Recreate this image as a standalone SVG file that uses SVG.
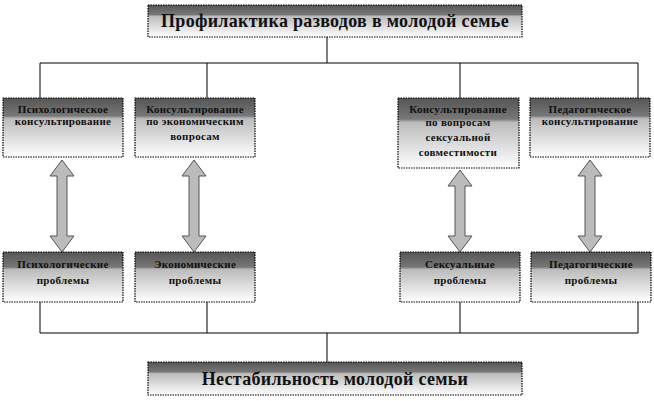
<svg xmlns="http://www.w3.org/2000/svg" width="654" height="401" viewBox="0 0 654 401">
<style>
.box{fill:url(#g);stroke:#000;stroke-width:1.2;stroke-dasharray:1.5 1}
.t{font-family:"Liberation Serif",serif;font-weight:bold;font-size:11px;letter-spacing:0.3px;text-anchor:middle;fill:#111}
.big{font-family:"Liberation Serif",serif;font-weight:bold;font-size:18px;letter-spacing:0.3px;text-anchor:middle;fill:#111}
.ln{stroke:#000;stroke-width:1;fill:none}
.ar{fill:#bbb;stroke:#555;stroke-width:1}
</style>
<defs>
<linearGradient id="g" x1="0" y1="0" x2="0" y2="1">
<stop offset="0" stop-color="#555"/><stop offset="0.3" stop-color="#777"/><stop offset="0.35" stop-color="#bbb"/><stop offset="1" stop-color="#fff"/>
</linearGradient>
</defs>
<g id="connectors">
<path class="ln" d="M40 63H638M327 37V63M40 63V98M207 63V98M460 63V98M638 63V98"/>
<path class="ln" d="M40 302V333H638M207 302V333M460 302V333M638 302V333M327 333V362"/>
<path class="ar" d="M62 160L74 176H67V236H74L62 252L50 236H57V176H50Z"/>
<path class="ar" d="M194 160L206 176H199V236H206L194 252L182 236H189V176H182Z"/>
<path class="ar" d="M460 170L472 186H465V236H472L460 252L448 236H455V186H448Z"/>
<path class="ar" d="M590 160L602 176H595V236H602L590 252L578 236H585V176H578Z"/>
</g>
<g id="top"><rect class="box" x="148" y="5" width="374" height="32"/><text class="big" x="335" y="27">Профилактика разводов в молодой семье</text></g>
<g id="n1"><rect class="box" x="3" y="98" width="120" height="59"/><text class="t" x="63" y="113">Психологическое</text><text class="t" x="63" y="125">консультирование</text></g>
<g id="n2"><rect class="box" x="135" y="98" width="120" height="59"/><text class="t" x="195" y="113">Консультирование</text><text class="t" x="195" y="125">по экономическим</text><text class="t" x="195" y="140">вопросам</text></g>
<g id="n3"><rect class="box" x="398" y="98" width="121" height="70"/><text class="t" x="458" y="113">Консультирование</text><text class="t" x="458" y="126">по вопросам</text><text class="t" x="458" y="141">сексуальной</text><text class="t" x="458" y="156">совместимости</text></g>
<g id="n4"><rect class="box" x="530" y="98" width="120" height="59"/><text class="t" x="590" y="113">Педагогическое</text><text class="t" x="590" y="125">консультирование</text></g>
<g id="p1"><rect class="box" x="3" y="252" width="120" height="50"/><text class="t" x="63" y="268">Психологические</text><text class="t" x="63" y="284">проблемы</text></g>
<g id="p2"><rect class="box" x="135" y="252" width="120" height="50"/><text class="t" x="195" y="268">Экономические</text><text class="t" x="195" y="284">проблемы</text></g>
<g id="p3"><rect class="box" x="400" y="252" width="120" height="50"/><text class="t" x="460" y="268">Сексуальные</text><text class="t" x="460" y="284">проблемы</text></g>
<g id="p4"><rect class="box" x="531" y="252" width="120" height="50"/><text class="t" x="591" y="268">Педагогические</text><text class="t" x="591" y="284">проблемы</text></g>
<g id="bottom"><rect class="box" x="148" y="362" width="374" height="33"/><text class="big" x="335" y="385">Нестабильность молодой семьи</text></g>
</svg>
